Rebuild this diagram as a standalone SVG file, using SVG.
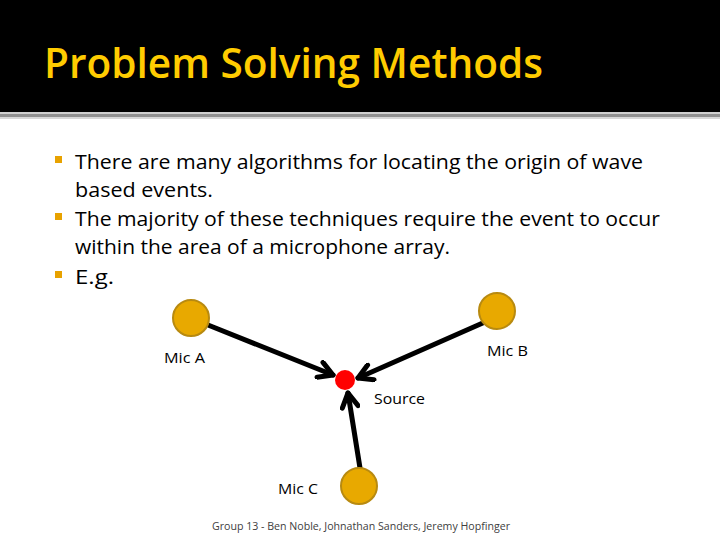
<svg xmlns="http://www.w3.org/2000/svg" width="720" height="540" viewBox="0 0 720 540">
<defs>
<style>
.title{font-family:"Open Sans",Lato,sans-serif;font-weight:600;font-size:42px;fill:#FFCC00}
.body{font-family:"Open Sans",Lato,sans-serif;font-size:20px;fill:#000}
.lbl{font-family:"Open Sans",Lato,sans-serif;font-size:14px;fill:#000}
.foot{font-family:"Open Sans",Lato,sans-serif;font-size:10.5px;fill:#404040}
.mic{fill:#E8A900;stroke:#B88A10;stroke-width:2}
.bul{fill:#E8A200}
.conn{stroke:#000;stroke-width:5;fill:none;stroke-linecap:round}
</style>
<marker id="ah" markerUnits="userSpaceOnUse" viewBox="0 0 20 20" refX="17" refY="10" markerWidth="20" markerHeight="20" orient="auto">
<path d="M3,2 L17,10 L3,18" fill="none" stroke="#000" stroke-width="5" stroke-linecap="round" stroke-linejoin="round"/>
</marker>
</defs>
<rect width="720" height="540" fill="#fff"/>
<rect width="720" height="112" fill="#000"/>
<rect y="112" width="720" height="2" fill="#d0d0d0"/>
<rect y="114" width="720" height="3" fill="#909090"/>
<rect y="117" width="720" height="2" fill="#d8d8d8"/>
<text class="title" x="44" y="78" textLength="499" lengthAdjust="spacingAndGlyphs">Problem Solving Methods</text>
<g id="bullets">
<rect class="bul" x="55" y="156" width="7" height="7"/>
<rect class="bul" x="55" y="213" width="7" height="7"/>
<rect class="bul" x="55" y="271" width="7" height="7"/>
<text class="body" x="75" y="169" textLength="568" lengthAdjust="spacingAndGlyphs">There are many algorithms for locating the origin of wave</text>
<text class="body" x="75" y="197" textLength="138" lengthAdjust="spacingAndGlyphs">based events.</text>
<text class="body" x="75" y="226" textLength="585" lengthAdjust="spacingAndGlyphs">The majority of these techniques require the event to occur</text>
<text class="body" x="75" y="254" textLength="375" lengthAdjust="spacingAndGlyphs">within the area of a microphone array.</text>
<text class="body" x="75" y="284" textLength="39" lengthAdjust="spacingAndGlyphs">E.g.</text>
</g>
<g id="connectors">
<line class="conn" x1="208" y1="325" x2="333" y2="375" marker-end="url(#ah)"/>
<line class="conn" x1="485" y1="322" x2="358" y2="378" marker-end="url(#ah)"/>
<line class="conn" x1="360" y1="468" x2="348" y2="393" marker-end="url(#ah)"/>
</g>
<g id="micA"><circle class="mic" cx="191" cy="318" r="18"/><text class="lbl" x="164" y="363" textLength="41" lengthAdjust="spacingAndGlyphs">Mic A</text></g>
<g id="micB"><circle class="mic" cx="497" cy="311" r="18"/><text class="lbl" x="487" y="356" textLength="41" lengthAdjust="spacingAndGlyphs">Mic B</text></g>
<g id="micC"><circle class="mic" cx="359" cy="486" r="18"/><text class="lbl" x="278" y="494" textLength="40" lengthAdjust="spacingAndGlyphs">Mic C</text></g>
<g id="source"><circle cx="345" cy="380" r="10" fill="#FF0000"/><text class="lbl" x="374" y="404" textLength="51" lengthAdjust="spacingAndGlyphs">Source</text></g>
<text class="foot" x="361" y="530" text-anchor="middle" textLength="298" lengthAdjust="spacingAndGlyphs">Group 13 - Ben Noble, Johnathan Sanders, Jeremy Hopfinger</text>
</svg>
